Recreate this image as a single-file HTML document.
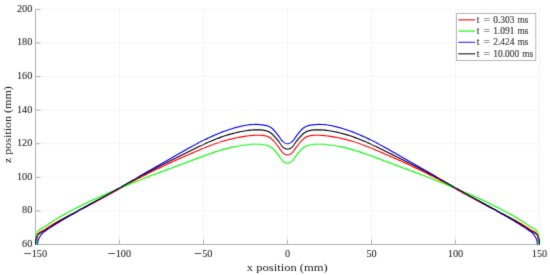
<!DOCTYPE html>
<html><head><meta charset="utf-8"><style>
html,body{margin:0;padding:0;background:#fff;}
svg{display:block;}
text{font-family:"Liberation Serif",serif;fill:#222222;stroke:#222222;stroke-width:0.06px;}
.lg text{stroke-width:0.15px;}
</style></head><body>
<svg width="550" height="275" viewBox="0 0 550 275">
<defs><filter id="b" x="0" y="0" width="100%" height="100%"><feConvolveMatrix order="3" kernelMatrix="0.01134 0.08382 0.01134 0.08382 0.61935 0.08382 0.01134 0.08382 0.01134" edgeMode="none"/></filter></defs>
<rect width="550" height="275" fill="#fff"/>
<g filter="url(#b)">
<g stroke="#f4f4f4" stroke-width="1"><line x1="119.5" y1="9.30" x2="119.5" y2="244.5"/><line x1="203.5" y1="9.30" x2="203.5" y2="244.5"/><line x1="287.5" y1="9.30" x2="287.5" y2="244.5"/><line x1="371.5" y1="9.30" x2="371.5" y2="244.5"/><line x1="455.5" y1="9.30" x2="455.5" y2="244.5"/><line x1="539.5" y1="9.30" x2="539.5" y2="244.5"/><line x1="35.5" y1="210.90" x2="539.5" y2="210.90"/><line x1="35.5" y1="177.30" x2="539.5" y2="177.30"/><line x1="35.5" y1="143.70" x2="539.5" y2="143.70"/><line x1="35.5" y1="110.10" x2="539.5" y2="110.10"/><line x1="35.5" y1="76.50" x2="539.5" y2="76.50"/><line x1="35.5" y1="42.90" x2="539.5" y2="42.90"/><line x1="35.5" y1="9.30" x2="539.5" y2="9.30"/></g>
<g stroke="#b0b0b0" stroke-width="1.0"><line x1="35.5" y1="244.5" x2="35.5" y2="239.5"/><line x1="119.5" y1="244.5" x2="119.5" y2="239.5"/><line x1="203.5" y1="244.5" x2="203.5" y2="239.5"/><line x1="287.5" y1="244.5" x2="287.5" y2="239.5"/><line x1="371.5" y1="244.5" x2="371.5" y2="239.5"/><line x1="455.5" y1="244.5" x2="455.5" y2="239.5"/><line x1="539.5" y1="244.5" x2="539.5" y2="239.5"/><line x1="35.5" y1="244.50" x2="40.5" y2="244.50"/><line x1="35.5" y1="210.90" x2="40.5" y2="210.90"/><line x1="35.5" y1="177.30" x2="40.5" y2="177.30"/><line x1="35.5" y1="143.70" x2="40.5" y2="143.70"/><line x1="35.5" y1="110.10" x2="40.5" y2="110.10"/><line x1="35.5" y1="76.50" x2="40.5" y2="76.50"/><line x1="35.5" y1="42.90" x2="40.5" y2="42.90"/><line x1="35.5" y1="9.30" x2="40.5" y2="9.30"/>
<line x1="35.5" y1="244.5" x2="540.0" y2="244.5"/>
<line x1="35.5" y1="9.30" x2="35.5" y2="245.0"/></g>
<g fill="none" stroke-width="1.15" stroke-linejoin="round"><path d="M37.00,244.50 37.01,243.25 37.03,241.45 37.05,239.55 37.10,238.00 37.17,236.93 37.25,236.09 37.36,235.41 37.50,234.80 37.66,234.29 37.84,233.89 38.08,233.56 38.40,233.20 38.84,232.81 39.36,232.42 39.93,232.05 40.50,231.70 41.06,231.38 41.64,231.09 42.23,230.80 42.80,230.50 43.37,230.17 43.95,229.84 44.50,229.51 45.00,229.20 45.42,228.93 45.79,228.68 46.14,228.45 46.50,228.21 46.91,227.94 47.34,227.66 47.73,227.41 48.00,227.24 49.50,226.30 51.00,225.39 52.50,224.49 54.00,223.62 55.50,222.77 57.00,221.93 58.50,221.12 60.00,220.31 61.50,219.52 63.00,218.73 64.50,217.96 66.00,217.19 67.50,216.43 69.00,215.67 70.50,214.92 72.00,214.16 73.50,213.40 75.00,212.64 76.50,211.87 78.00,211.10 79.50,210.32 81.00,209.54 82.50,208.76 84.00,207.97 85.50,207.18 87.00,206.38 88.50,205.59 90.00,204.79 91.50,203.99 93.00,203.18 94.50,202.38 96.00,201.57 97.50,200.77 99.00,199.96 100.50,199.15 102.00,198.34 103.50,197.53 105.00,196.72 106.50,195.91 108.00,195.10 109.50,194.28 111.00,193.47 112.50,192.65 114.00,191.84 115.50,191.02 117.00,190.21 118.50,189.39 120.00,188.57 121.50,187.75 123.00,186.93 124.50,186.11 126.00,185.30 127.50,184.48 129.00,183.66 130.50,182.85 132.00,182.03 133.50,181.22 135.00,180.42 136.50,179.61 138.00,178.81 139.50,178.01 141.00,177.22 142.50,176.43 144.00,175.65 145.50,174.87 147.00,174.10 148.50,173.33 150.00,172.57 151.50,171.81 153.00,171.06 154.50,170.32 156.00,169.58 157.50,168.84 159.00,168.11 160.50,167.39 162.00,166.67 163.50,165.95 165.00,165.24 166.50,164.53 168.00,163.83 169.50,163.13 171.00,162.44 172.50,161.75 174.00,161.06 175.50,160.38 177.00,159.71 178.50,159.03 180.00,158.36 181.50,157.69 183.00,157.03 184.50,156.37 186.00,155.71 187.50,155.06 189.00,154.41 190.50,153.76 192.00,153.11 193.50,152.46 195.00,151.82 196.50,151.18 198.00,150.54 199.50,149.91 201.00,149.28 202.50,148.65 204.00,148.04 205.50,147.43 207.00,146.83 208.50,146.23 210.00,145.65 211.50,145.08 213.00,144.53 214.50,143.98 216.00,143.45 217.50,142.94 219.00,142.44 220.50,141.96 222.00,141.50 223.50,141.05 225.00,140.62 226.50,140.21 228.00,139.81 229.50,139.43 231.00,139.07 232.50,138.71 234.00,138.38 235.50,138.05 237.00,137.74 238.50,137.45 240.00,137.16 241.50,136.89 243.00,136.63 244.50,136.38 246.00,136.16 247.50,135.95 249.00,135.77 250.50,135.61 252.00,135.47 253.50,135.36 255.00,135.28 256.50,135.23 258.00,135.21 259.50,135.23 261.00,135.28 262.00,135.34 262.50,135.38 263.00,135.43 263.50,135.49 264.00,135.57 264.50,135.65 265.00,135.74 265.50,135.85 266.00,135.97 266.50,136.11 267.00,136.26 267.50,136.43 268.00,136.63 268.50,136.85 269.00,137.10 269.50,137.38 270.00,137.70 270.50,138.04 271.00,138.43 271.50,138.86 272.00,139.32 272.50,139.81 273.00,140.33 273.50,140.88 274.00,141.44 274.50,142.02 275.00,142.61 275.50,143.21 276.00,143.81 276.50,144.42 277.00,145.05 277.50,145.69 278.00,146.34 278.50,147.01 279.00,147.70 279.50,148.41 280.00,149.13 280.50,149.84 281.00,150.53 281.50,151.20 282.00,151.83 282.50,152.40 283.00,152.90 283.50,153.33 284.00,153.69 284.50,153.99 285.00,154.24 285.50,154.45 286.00,154.63 286.50,154.77 287.00,154.87 287.50,154.90 288.00,154.87 288.50,154.77 289.00,154.63 289.50,154.45 290.00,154.24 290.50,153.99 291.00,153.69 291.50,153.33 292.00,152.90 292.50,152.40 293.00,151.83 293.50,151.20 294.00,150.53 294.50,149.84 295.00,149.13 295.50,148.41 296.00,147.70 296.50,147.01 297.00,146.34 297.50,145.69 298.00,145.05 298.50,144.42 299.00,143.81 299.50,143.21 300.00,142.61 300.50,142.02 301.00,141.44 301.50,140.88 302.00,140.33 302.50,139.81 303.00,139.32 303.50,138.86 304.00,138.43 304.50,138.04 305.00,137.70 305.50,137.38 306.00,137.10 306.50,136.85 307.00,136.63 307.50,136.43 308.00,136.26 308.50,136.11 309.00,135.97 309.50,135.85 310.00,135.74 310.50,135.65 311.00,135.57 311.50,135.49 312.00,135.43 312.50,135.38 313.00,135.34 314.00,135.28 315.50,135.23 317.00,135.21 318.50,135.23 320.00,135.28 321.50,135.36 323.00,135.47 324.50,135.61 326.00,135.77 327.50,135.95 329.00,136.16 330.50,136.38 332.00,136.63 333.50,136.89 335.00,137.16 336.50,137.45 338.00,137.74 339.50,138.05 341.00,138.38 342.50,138.71 344.00,139.07 345.50,139.43 347.00,139.81 348.50,140.21 350.00,140.62 351.50,141.05 353.00,141.50 354.50,141.96 356.00,142.44 357.50,142.94 359.00,143.45 360.50,143.98 362.00,144.53 363.50,145.08 365.00,145.65 366.50,146.23 368.00,146.83 369.50,147.43 371.00,148.04 372.50,148.65 374.00,149.28 375.50,149.91 377.00,150.54 378.50,151.18 380.00,151.82 381.50,152.46 383.00,153.11 384.50,153.76 386.00,154.41 387.50,155.06 389.00,155.71 390.50,156.37 392.00,157.03 393.50,157.69 395.00,158.36 396.50,159.03 398.00,159.71 399.50,160.38 401.00,161.06 402.50,161.75 404.00,162.44 405.50,163.13 407.00,163.83 408.50,164.53 410.00,165.24 411.50,165.95 413.00,166.67 414.50,167.39 416.00,168.11 417.50,168.84 419.00,169.58 420.50,170.32 422.00,171.06 423.50,171.81 425.00,172.57 426.50,173.33 428.00,174.10 429.50,174.87 431.00,175.65 432.50,176.43 434.00,177.22 435.50,178.01 437.00,178.81 438.50,179.61 440.00,180.42 441.50,181.22 443.00,182.03 444.50,182.85 446.00,183.66 447.50,184.48 449.00,185.30 450.50,186.11 452.00,186.93 453.50,187.75 455.00,188.57 456.50,189.39 458.00,190.21 459.50,191.02 461.00,191.84 462.50,192.65 464.00,193.47 465.50,194.28 467.00,195.10 468.50,195.91 470.00,196.72 471.50,197.53 473.00,198.34 474.50,199.15 476.00,199.96 477.50,200.77 479.00,201.57 480.50,202.38 482.00,203.18 483.50,203.99 485.00,204.79 486.50,205.59 488.00,206.38 489.50,207.18 491.00,207.97 492.50,208.76 494.00,209.54 495.50,210.32 497.00,211.10 498.50,211.87 500.00,212.64 501.50,213.40 503.00,214.16 504.50,214.92 506.00,215.67 507.50,216.43 509.00,217.19 510.50,217.96 512.00,218.73 513.50,219.52 515.00,220.31 516.50,221.12 518.00,221.93 519.50,222.77 521.00,223.62 522.50,224.49 524.00,225.39 525.50,226.30 527.00,227.24 527.27,227.41 527.66,227.66 528.09,227.94 528.50,228.21 528.86,228.45 529.21,228.68 529.58,228.93 530.00,229.20 530.50,229.51 531.05,229.84 531.63,230.17 532.20,230.50 532.77,230.80 533.36,231.09 533.94,231.38 534.50,231.70 535.07,232.05 535.64,232.42 536.16,232.81 536.60,233.20 536.92,233.56 537.16,233.89 537.34,234.29 537.50,234.80 537.64,235.41 537.75,236.09 537.83,236.93 537.90,238.00 537.95,239.55 537.98,241.45 537.99,243.25 538.00,244.50" stroke="#ff0000"/><path d="M36.30,244.50 36.30,243.26 36.29,241.47 36.29,239.57 36.30,238.00 36.32,236.87 36.35,235.95 36.40,235.15 36.50,234.40 36.63,233.68 36.79,233.04 37.00,232.46 37.30,231.90 37.70,231.38 38.18,230.90 38.72,230.45 39.30,230.00 39.92,229.56 40.59,229.14 41.29,228.73 42.00,228.30 42.76,227.84 43.58,227.36 44.35,226.90 45.00,226.50 45.48,226.19 45.84,225.93 46.16,225.71 46.50,225.47 46.91,225.19 47.34,224.90 47.73,224.64 48.00,224.45 49.50,223.46 51.00,222.48 52.50,221.52 54.00,220.57 55.50,219.64 57.00,218.73 58.50,217.83 60.00,216.94 61.50,216.07 63.00,215.20 64.50,214.36 66.00,213.52 67.50,212.69 69.00,211.87 70.50,211.07 72.00,210.27 73.50,209.48 75.00,208.70 76.50,207.93 78.00,207.16 79.50,206.40 81.00,205.65 82.50,204.91 84.00,204.17 85.50,203.44 87.00,202.72 88.50,202.00 90.00,201.29 91.50,200.59 93.00,199.89 94.50,199.20 96.00,198.51 97.50,197.84 99.00,197.17 100.50,196.50 102.00,195.84 103.50,195.18 105.00,194.53 106.50,193.88 108.00,193.24 109.50,192.60 111.00,191.96 112.50,191.32 114.00,190.69 115.50,190.06 117.00,189.43 118.50,188.81 120.00,188.18 121.50,187.56 123.00,186.93 124.50,186.31 126.00,185.69 127.50,185.07 129.00,184.45 130.50,183.83 132.00,183.22 133.50,182.61 135.00,182.00 136.50,181.39 138.00,180.79 139.50,180.19 141.00,179.59 142.50,179.00 144.00,178.41 145.50,177.83 147.00,177.24 148.50,176.66 150.00,176.09 151.50,175.52 153.00,174.95 154.50,174.38 156.00,173.82 157.50,173.25 159.00,172.69 160.50,172.13 162.00,171.57 163.50,171.02 165.00,170.46 166.50,169.90 168.00,169.34 169.50,168.79 171.00,168.23 172.50,167.67 174.00,167.11 175.50,166.55 177.00,165.99 178.50,165.43 180.00,164.87 181.50,164.30 183.00,163.74 184.50,163.18 186.00,162.61 187.50,162.05 189.00,161.48 190.50,160.92 192.00,160.35 193.50,159.79 195.00,159.22 196.50,158.65 198.00,158.09 199.50,157.52 201.00,156.96 202.50,156.40 204.00,155.85 205.50,155.30 207.00,154.75 208.50,154.22 210.00,153.69 211.50,153.17 213.00,152.66 214.50,152.15 216.00,151.67 217.50,151.19 219.00,150.72 220.50,150.27 222.00,149.83 223.50,149.41 225.00,149.00 226.50,148.61 228.00,148.23 229.50,147.87 231.00,147.52 232.50,147.18 234.00,146.86 235.50,146.55 237.00,146.26 238.50,145.98 240.00,145.71 241.50,145.46 243.00,145.22 244.50,145.01 246.00,144.81 247.50,144.64 249.00,144.50 250.50,144.38 252.00,144.29 253.50,144.23 255.00,144.21 256.50,144.21 258.00,144.25 259.50,144.30 261.00,144.39 262.00,144.47 262.50,144.51 263.00,144.57 263.50,144.63 264.00,144.70 264.50,144.78 265.00,144.87 265.50,144.97 266.00,145.08 266.50,145.20 267.00,145.34 267.50,145.50 268.00,145.67 268.50,145.87 269.00,146.09 269.50,146.34 270.00,146.61 270.50,146.92 271.00,147.26 271.50,147.63 272.00,148.04 272.50,148.48 273.00,148.94 273.50,149.43 274.00,149.93 274.50,150.46 275.00,151.00 275.50,151.55 276.00,152.12 276.50,152.70 277.00,153.30 277.50,153.92 278.00,154.56 278.50,155.22 279.00,155.90 279.50,156.60 280.00,157.32 280.50,158.03 281.00,158.73 281.50,159.39 282.00,160.02 282.50,160.59 283.00,161.10 283.50,161.53 284.00,161.89 284.50,162.19 285.00,162.44 285.50,162.65 286.00,162.83 286.50,162.97 287.00,163.07 287.50,163.10 288.00,163.07 288.50,162.97 289.00,162.83 289.50,162.65 290.00,162.44 290.50,162.19 291.00,161.89 291.50,161.53 292.00,161.10 292.50,160.59 293.00,160.02 293.50,159.39 294.00,158.73 294.50,158.03 295.00,157.32 295.50,156.60 296.00,155.90 296.50,155.22 297.00,154.56 297.50,153.92 298.00,153.30 298.50,152.70 299.00,152.12 299.50,151.55 300.00,151.00 300.50,150.46 301.00,149.93 301.50,149.43 302.00,148.94 302.50,148.48 303.00,148.04 303.50,147.63 304.00,147.26 304.50,146.92 305.00,146.61 305.50,146.34 306.00,146.09 306.50,145.87 307.00,145.67 307.50,145.50 308.00,145.34 308.50,145.20 309.00,145.08 309.50,144.97 310.00,144.87 310.50,144.78 311.00,144.70 311.50,144.63 312.00,144.57 312.50,144.51 313.00,144.47 314.00,144.39 315.50,144.30 317.00,144.25 318.50,144.21 320.00,144.21 321.50,144.23 323.00,144.29 324.50,144.38 326.00,144.50 327.50,144.64 329.00,144.81 330.50,145.01 332.00,145.22 333.50,145.46 335.00,145.71 336.50,145.98 338.00,146.26 339.50,146.55 341.00,146.86 342.50,147.18 344.00,147.52 345.50,147.87 347.00,148.23 348.50,148.61 350.00,149.00 351.50,149.41 353.00,149.83 354.50,150.27 356.00,150.72 357.50,151.19 359.00,151.67 360.50,152.15 362.00,152.66 363.50,153.17 365.00,153.69 366.50,154.22 368.00,154.75 369.50,155.30 371.00,155.85 372.50,156.40 374.00,156.96 375.50,157.52 377.00,158.09 378.50,158.65 380.00,159.22 381.50,159.79 383.00,160.35 384.50,160.92 386.00,161.48 387.50,162.05 389.00,162.61 390.50,163.18 392.00,163.74 393.50,164.30 395.00,164.87 396.50,165.43 398.00,165.99 399.50,166.55 401.00,167.11 402.50,167.67 404.00,168.23 405.50,168.79 407.00,169.34 408.50,169.90 410.00,170.46 411.50,171.02 413.00,171.57 414.50,172.13 416.00,172.69 417.50,173.25 419.00,173.82 420.50,174.38 422.00,174.95 423.50,175.52 425.00,176.09 426.50,176.66 428.00,177.24 429.50,177.83 431.00,178.41 432.50,179.00 434.00,179.59 435.50,180.19 437.00,180.79 438.50,181.39 440.00,182.00 441.50,182.61 443.00,183.22 444.50,183.83 446.00,184.45 447.50,185.07 449.00,185.69 450.50,186.31 452.00,186.93 453.50,187.56 455.00,188.18 456.50,188.81 458.00,189.43 459.50,190.06 461.00,190.69 462.50,191.32 464.00,191.96 465.50,192.60 467.00,193.24 468.50,193.88 470.00,194.53 471.50,195.18 473.00,195.84 474.50,196.50 476.00,197.17 477.50,197.84 479.00,198.51 480.50,199.20 482.00,199.89 483.50,200.59 485.00,201.29 486.50,202.00 488.00,202.72 489.50,203.44 491.00,204.17 492.50,204.91 494.00,205.65 495.50,206.40 497.00,207.16 498.50,207.93 500.00,208.70 501.50,209.48 503.00,210.27 504.50,211.07 506.00,211.87 507.50,212.69 509.00,213.52 510.50,214.36 512.00,215.20 513.50,216.07 515.00,216.94 516.50,217.83 518.00,218.73 519.50,219.64 521.00,220.57 522.50,221.52 524.00,222.48 525.50,223.46 527.00,224.45 527.27,224.64 527.66,224.90 528.09,225.19 528.50,225.47 528.84,225.71 529.16,225.93 529.52,226.19 530.00,226.50 530.65,226.90 531.42,227.36 532.24,227.84 533.00,228.30 533.71,228.73 534.41,229.14 535.08,229.56 535.70,230.00 536.28,230.45 536.82,230.90 537.30,231.38 537.70,231.90 538.00,232.46 538.21,233.04 538.37,233.68 538.50,234.40 538.60,235.15 538.65,235.95 538.68,236.87 538.70,238.00 538.71,239.57 538.71,241.47 538.70,243.26 538.70,244.50" stroke="#00ff00"/><path d="M37.50,244.50 37.57,243.87 37.67,242.97 37.81,241.96 38.00,241.00 38.25,240.11 38.56,239.21 38.91,238.33 39.30,237.50 39.76,236.71 40.27,235.96 40.80,235.25 41.30,234.60 41.74,234.02 42.15,233.51 42.56,233.04 43.00,232.60 43.49,232.20 44.01,231.84 44.53,231.51 45.00,231.20 45.41,230.91 45.78,230.65 46.14,230.41 46.50,230.16 46.91,229.88 47.34,229.58 47.73,229.32 48.00,229.13 49.50,228.12 51.00,227.13 52.50,226.16 54.00,225.19 55.50,224.25 57.00,223.31 58.50,222.39 60.00,221.48 61.50,220.58 63.00,219.69 64.50,218.81 66.00,217.94 67.50,217.07 69.00,216.21 70.50,215.36 72.00,214.51 73.50,213.66 75.00,212.82 76.50,211.98 78.00,211.14 79.50,210.31 81.00,209.47 82.50,208.64 84.00,207.81 85.50,206.98 87.00,206.15 88.50,205.32 90.00,204.49 91.50,203.66 93.00,202.83 94.50,202.00 96.00,201.17 97.50,200.33 99.00,199.50 100.50,198.66 102.00,197.83 103.50,196.99 105.00,196.15 106.50,195.30 108.00,194.46 109.50,193.61 111.00,192.77 112.50,191.92 114.00,191.06 115.50,190.21 117.00,189.35 118.50,188.49 120.00,187.63 121.50,186.76 123.00,185.90 124.50,185.03 126.00,184.16 127.50,183.28 129.00,182.41 130.50,181.53 132.00,180.66 133.50,179.78 135.00,178.91 136.50,178.03 138.00,177.16 139.50,176.29 141.00,175.42 142.50,174.55 144.00,173.69 145.50,172.82 147.00,171.96 148.50,171.11 150.00,170.25 151.50,169.40 153.00,168.55 154.50,167.70 156.00,166.85 157.50,166.00 159.00,165.15 160.50,164.30 162.00,163.45 163.50,162.60 165.00,161.75 166.50,160.89 168.00,160.04 169.50,159.18 171.00,158.32 172.50,157.45 174.00,156.59 175.50,155.72 177.00,154.85 178.50,153.99 180.00,153.12 181.50,152.26 183.00,151.40 184.50,150.54 186.00,149.69 187.50,148.84 189.00,148.00 190.50,147.17 192.00,146.35 193.50,145.53 195.00,144.72 196.50,143.92 198.00,143.13 199.50,142.36 201.00,141.59 202.50,140.83 204.00,140.09 205.50,139.36 207.00,138.64 208.50,137.93 210.00,137.23 211.50,136.55 213.00,135.88 214.50,135.22 216.00,134.58 217.50,133.95 219.00,133.33 220.50,132.73 222.00,132.14 223.50,131.57 225.00,131.02 226.50,130.48 228.00,129.96 229.50,129.45 231.00,128.97 232.50,128.50 234.00,128.05 235.50,127.62 237.00,127.21 238.50,126.82 240.00,126.45 241.50,126.10 243.00,125.78 244.50,125.49 246.00,125.22 247.50,124.99 249.00,124.79 250.50,124.64 252.00,124.52 253.50,124.45 255.00,124.42 256.50,124.43 258.00,124.49 259.50,124.59 261.00,124.73 262.00,124.84 262.50,124.91 263.00,124.98 263.50,125.06 264.00,125.14 264.50,125.23 265.00,125.32 265.50,125.42 266.00,125.53 266.50,125.65 267.00,125.77 267.50,125.91 268.00,126.07 268.50,126.24 269.00,126.44 269.50,126.67 270.00,126.93 270.50,127.22 271.00,127.55 271.50,127.92 272.00,128.33 272.50,128.77 273.00,129.24 273.50,129.74 274.00,130.27 274.50,130.82 275.00,131.39 275.50,131.98 276.00,132.58 276.50,133.20 277.00,133.84 277.50,134.49 278.00,135.16 278.50,135.85 279.00,136.55 279.50,137.27 280.00,137.99 280.50,138.70 281.00,139.40 281.50,140.06 282.00,140.68 282.50,141.25 283.00,141.75 283.50,142.18 284.00,142.53 284.50,142.83 285.00,143.09 285.50,143.30 286.00,143.48 286.50,143.62 287.00,143.72 287.50,143.75 288.00,143.72 288.50,143.62 289.00,143.48 289.50,143.30 290.00,143.09 290.50,142.83 291.00,142.53 291.50,142.18 292.00,141.75 292.50,141.25 293.00,140.68 293.50,140.06 294.00,139.40 294.50,138.70 295.00,137.99 295.50,137.27 296.00,136.55 296.50,135.85 297.00,135.16 297.50,134.49 298.00,133.84 298.50,133.20 299.00,132.58 299.50,131.98 300.00,131.39 300.50,130.82 301.00,130.27 301.50,129.74 302.00,129.24 302.50,128.77 303.00,128.33 303.50,127.92 304.00,127.55 304.50,127.22 305.00,126.93 305.50,126.67 306.00,126.44 306.50,126.24 307.00,126.07 307.50,125.91 308.00,125.77 308.50,125.65 309.00,125.53 309.50,125.42 310.00,125.32 310.50,125.23 311.00,125.14 311.50,125.06 312.00,124.98 312.50,124.91 313.00,124.84 314.00,124.73 315.50,124.59 317.00,124.49 318.50,124.43 320.00,124.42 321.50,124.45 323.00,124.52 324.50,124.64 326.00,124.79 327.50,124.99 329.00,125.22 330.50,125.49 332.00,125.78 333.50,126.10 335.00,126.45 336.50,126.82 338.00,127.21 339.50,127.62 341.00,128.05 342.50,128.50 344.00,128.97 345.50,129.45 347.00,129.96 348.50,130.48 350.00,131.02 351.50,131.57 353.00,132.14 354.50,132.73 356.00,133.33 357.50,133.95 359.00,134.58 360.50,135.22 362.00,135.88 363.50,136.55 365.00,137.23 366.50,137.93 368.00,138.64 369.50,139.36 371.00,140.09 372.50,140.83 374.00,141.59 375.50,142.36 377.00,143.13 378.50,143.92 380.00,144.72 381.50,145.53 383.00,146.35 384.50,147.17 386.00,148.00 387.50,148.84 389.00,149.69 390.50,150.54 392.00,151.40 393.50,152.26 395.00,153.12 396.50,153.99 398.00,154.85 399.50,155.72 401.00,156.59 402.50,157.45 404.00,158.32 405.50,159.18 407.00,160.04 408.50,160.89 410.00,161.75 411.50,162.60 413.00,163.45 414.50,164.30 416.00,165.15 417.50,166.00 419.00,166.85 420.50,167.70 422.00,168.55 423.50,169.40 425.00,170.25 426.50,171.11 428.00,171.96 429.50,172.82 431.00,173.69 432.50,174.55 434.00,175.42 435.50,176.29 437.00,177.16 438.50,178.03 440.00,178.91 441.50,179.78 443.00,180.66 444.50,181.53 446.00,182.41 447.50,183.28 449.00,184.16 450.50,185.03 452.00,185.90 453.50,186.76 455.00,187.63 456.50,188.49 458.00,189.35 459.50,190.21 461.00,191.06 462.50,191.92 464.00,192.77 465.50,193.61 467.00,194.46 468.50,195.30 470.00,196.15 471.50,196.99 473.00,197.83 474.50,198.66 476.00,199.50 477.50,200.33 479.00,201.17 480.50,202.00 482.00,202.83 483.50,203.66 485.00,204.49 486.50,205.32 488.00,206.15 489.50,206.98 491.00,207.81 492.50,208.64 494.00,209.47 495.50,210.31 497.00,211.14 498.50,211.98 500.00,212.82 501.50,213.66 503.00,214.51 504.50,215.36 506.00,216.21 507.50,217.07 509.00,217.94 510.50,218.81 512.00,219.69 513.50,220.58 515.00,221.48 516.50,222.39 518.00,223.31 519.50,224.25 521.00,225.19 522.50,226.16 524.00,227.13 525.50,228.12 527.00,229.13 527.27,229.32 527.66,229.58 528.09,229.88 528.50,230.16 528.86,230.41 529.22,230.65 529.59,230.91 530.00,231.20 530.47,231.51 530.99,231.84 531.51,232.20 532.00,232.60 532.44,233.04 532.85,233.51 533.26,234.02 533.70,234.60 534.20,235.25 534.73,235.96 535.24,236.71 535.70,237.50 536.09,238.33 536.44,239.21 536.75,240.11 537.00,241.00 537.19,241.96 537.33,242.97 537.43,243.87 537.50,244.50" stroke="#0000ff"/><path d="M35.50,244.50 35.54,243.67 35.59,242.46 35.67,241.15 35.80,240.00 35.98,239.05 36.21,238.18 36.48,237.36 36.80,236.60 37.17,235.90 37.58,235.25 38.05,234.65 38.60,234.10 39.23,233.60 39.94,233.16 40.71,232.74 41.50,232.30 42.38,231.81 43.34,231.30 44.25,230.82 45.00,230.40 45.52,230.08 45.88,229.83 46.17,229.61 46.50,229.37 46.91,229.09 47.34,228.80 47.73,228.54 48.00,228.36 49.50,227.37 51.00,226.39 52.50,225.43 54.00,224.49 55.50,223.56 57.00,222.64 58.50,221.73 60.00,220.84 61.50,219.96 63.00,219.08 64.50,218.22 66.00,217.36 67.50,216.51 69.00,215.66 70.50,214.82 72.00,213.99 73.50,213.16 75.00,212.33 76.50,211.50 78.00,210.68 79.50,209.85 81.00,209.03 82.50,208.21 84.00,207.39 85.50,206.57 87.00,205.76 88.50,204.94 90.00,204.12 91.50,203.30 93.00,202.49 94.50,201.67 96.00,200.86 97.50,200.04 99.00,199.22 100.50,198.41 102.00,197.59 103.50,196.77 105.00,195.95 106.50,195.13 108.00,194.31 109.50,193.49 111.00,192.67 112.50,191.85 114.00,191.03 115.50,190.20 117.00,189.38 118.50,188.55 120.00,187.72 121.50,186.89 123.00,186.06 124.50,185.23 126.00,184.39 127.50,183.56 129.00,182.73 130.50,181.90 132.00,181.07 133.50,180.24 135.00,179.41 136.50,178.58 138.00,177.76 139.50,176.94 141.00,176.12 142.50,175.30 144.00,174.49 145.50,173.68 147.00,172.88 148.50,172.08 150.00,171.28 151.50,170.49 153.00,169.70 154.50,168.91 156.00,168.12 157.50,167.34 159.00,166.57 160.50,165.79 162.00,165.02 163.50,164.25 165.00,163.48 166.50,162.71 168.00,161.95 169.50,161.18 171.00,160.42 172.50,159.66 174.00,158.90 175.50,158.15 177.00,157.39 178.50,156.64 180.00,155.89 181.50,155.14 183.00,154.39 184.50,153.65 186.00,152.91 187.50,152.17 189.00,151.43 190.50,150.70 192.00,149.96 193.50,149.24 195.00,148.51 196.50,147.79 198.00,147.07 199.50,146.35 201.00,145.65 202.50,144.94 204.00,144.25 205.50,143.56 207.00,142.89 208.50,142.22 210.00,141.56 211.50,140.92 213.00,140.29 214.50,139.67 216.00,139.07 217.50,138.48 219.00,137.91 220.50,137.36 222.00,136.82 223.50,136.30 225.00,135.80 226.50,135.32 228.00,134.86 229.50,134.41 231.00,133.99 232.50,133.58 234.00,133.19 235.50,132.81 237.00,132.46 238.50,132.13 240.00,131.81 241.50,131.51 243.00,131.24 244.50,130.98 246.00,130.75 247.50,130.53 249.00,130.35 250.50,130.19 252.00,130.05 253.50,129.94 255.00,129.87 256.50,129.82 258.00,129.82 259.50,129.85 261.00,129.93 262.00,130.01 262.50,130.06 263.00,130.12 263.50,130.19 264.00,130.27 264.50,130.36 265.00,130.47 265.50,130.58 266.00,130.71 266.50,130.85 267.00,131.01 267.50,131.19 268.00,131.38 268.50,131.60 269.00,131.85 269.50,132.13 270.00,132.43 270.50,132.77 271.00,133.14 271.50,133.55 272.00,133.99 272.50,134.46 273.00,134.96 273.50,135.47 274.00,136.01 274.50,136.55 275.00,137.10 275.50,137.66 276.00,138.22 276.50,138.79 277.00,139.37 277.50,139.97 278.00,140.59 278.50,141.23 279.00,141.90 279.50,142.59 280.00,143.30 280.50,144.01 281.00,144.71 281.50,145.38 282.00,146.01 282.50,146.59 283.00,147.10 283.50,147.53 284.00,147.89 284.50,148.19 285.00,148.44 285.50,148.65 286.00,148.83 286.50,148.97 287.00,149.07 287.50,149.10 288.00,149.07 288.50,148.97 289.00,148.83 289.50,148.65 290.00,148.44 290.50,148.19 291.00,147.89 291.50,147.53 292.00,147.10 292.50,146.59 293.00,146.01 293.50,145.38 294.00,144.71 294.50,144.01 295.00,143.30 295.50,142.59 296.00,141.90 296.50,141.23 297.00,140.59 297.50,139.97 298.00,139.37 298.50,138.79 299.00,138.22 299.50,137.66 300.00,137.10 300.50,136.55 301.00,136.01 301.50,135.47 302.00,134.96 302.50,134.46 303.00,133.99 303.50,133.55 304.00,133.14 304.50,132.77 305.00,132.43 305.50,132.13 306.00,131.85 306.50,131.60 307.00,131.38 307.50,131.19 308.00,131.01 308.50,130.85 309.00,130.71 309.50,130.58 310.00,130.47 310.50,130.36 311.00,130.27 311.50,130.19 312.00,130.12 312.50,130.06 313.00,130.01 314.00,129.93 315.50,129.85 317.00,129.82 318.50,129.82 320.00,129.87 321.50,129.94 323.00,130.05 324.50,130.19 326.00,130.35 327.50,130.53 329.00,130.75 330.50,130.98 332.00,131.24 333.50,131.51 335.00,131.81 336.50,132.13 338.00,132.46 339.50,132.81 341.00,133.19 342.50,133.58 344.00,133.99 345.50,134.41 347.00,134.86 348.50,135.32 350.00,135.80 351.50,136.30 353.00,136.82 354.50,137.36 356.00,137.91 357.50,138.48 359.00,139.07 360.50,139.67 362.00,140.29 363.50,140.92 365.00,141.56 366.50,142.22 368.00,142.89 369.50,143.56 371.00,144.25 372.50,144.94 374.00,145.65 375.50,146.35 377.00,147.07 378.50,147.79 380.00,148.51 381.50,149.24 383.00,149.96 384.50,150.70 386.00,151.43 387.50,152.17 389.00,152.91 390.50,153.65 392.00,154.39 393.50,155.14 395.00,155.89 396.50,156.64 398.00,157.39 399.50,158.15 401.00,158.90 402.50,159.66 404.00,160.42 405.50,161.18 407.00,161.95 408.50,162.71 410.00,163.48 411.50,164.25 413.00,165.02 414.50,165.79 416.00,166.57 417.50,167.34 419.00,168.12 420.50,168.91 422.00,169.70 423.50,170.49 425.00,171.28 426.50,172.08 428.00,172.88 429.50,173.68 431.00,174.49 432.50,175.30 434.00,176.12 435.50,176.94 437.00,177.76 438.50,178.58 440.00,179.41 441.50,180.24 443.00,181.07 444.50,181.90 446.00,182.73 447.50,183.56 449.00,184.39 450.50,185.23 452.00,186.06 453.50,186.89 455.00,187.72 456.50,188.55 458.00,189.38 459.50,190.20 461.00,191.03 462.50,191.85 464.00,192.67 465.50,193.49 467.00,194.31 468.50,195.13 470.00,195.95 471.50,196.77 473.00,197.59 474.50,198.41 476.00,199.22 477.50,200.04 479.00,200.86 480.50,201.67 482.00,202.49 483.50,203.30 485.00,204.12 486.50,204.94 488.00,205.76 489.50,206.57 491.00,207.39 492.50,208.21 494.00,209.03 495.50,209.85 497.00,210.68 498.50,211.50 500.00,212.33 501.50,213.16 503.00,213.99 504.50,214.82 506.00,215.66 507.50,216.51 509.00,217.36 510.50,218.22 512.00,219.08 513.50,219.96 515.00,220.84 516.50,221.73 518.00,222.64 519.50,223.56 521.00,224.49 522.50,225.43 524.00,226.39 525.50,227.37 527.00,228.36 527.27,228.54 527.66,228.80 528.09,229.09 528.50,229.37 528.83,229.61 529.12,229.83 529.48,230.08 530.00,230.40 530.75,230.82 531.66,231.30 532.62,231.81 533.50,232.30 534.29,232.74 535.06,233.16 535.77,233.60 536.40,234.10 536.95,234.65 537.42,235.25 537.83,235.90 538.20,236.60 538.52,237.36 538.79,238.18 539.02,239.05 539.20,240.00 539.33,241.15 539.41,242.46 539.46,243.67 539.50,244.50" stroke="#000000"/></g>
<g font-size="10.2"><text y="256.7"><tspan x="23.97" textLength="7.75" lengthAdjust="spacingAndGlyphs">−</tspan><tspan x="31.73">150</tspan></text><text y="256.7"><tspan x="107.97" textLength="7.75" lengthAdjust="spacingAndGlyphs">−</tspan><tspan x="115.73">100</tspan></text><text y="256.7"><tspan x="194.52" textLength="7.75" lengthAdjust="spacingAndGlyphs">−</tspan><tspan x="202.28">50</tspan></text><text x="287.50" y="256.7" text-anchor="middle">0</text><text x="371.50" y="256.7" text-anchor="middle">50</text><text x="455.50" y="256.7" text-anchor="middle">100</text><text x="539.50" y="256.7" text-anchor="middle">150</text><text x="32.3" y="246.90" text-anchor="end">60</text><text x="32.3" y="213.30" text-anchor="end">80</text><text x="32.3" y="179.70" text-anchor="end">100</text><text x="32.3" y="146.10" text-anchor="end">120</text><text x="32.3" y="112.50" text-anchor="end">140</text><text x="32.3" y="78.90" text-anchor="end">160</text><text x="32.3" y="45.30" text-anchor="end">180</text><text x="32.3" y="11.70" text-anchor="end">200</text></g>
<rect x="456.5" y="13.6" width="79.3" height="47" fill="#fff" stroke="#a0a0a0" stroke-width="0.8"/>
<g font-size="9.4" class="lg"><line x1="458.3" y1="19.80" x2="475.2" y2="19.80" stroke="#ff0000" stroke-width="1.3"/><text y="22.80"><tspan x="476.7">t</tspan> <tspan x="483.4" textLength="6.4" lengthAdjust="spacingAndGlyphs">=</tspan> <tspan x="493.3">0.303</tspan> <tspan x="517.55">ms</tspan></text><line x1="458.3" y1="31.10" x2="475.2" y2="31.10" stroke="#00ff00" stroke-width="1.3"/><text y="34.10"><tspan x="476.7">t</tspan> <tspan x="483.4" textLength="6.4" lengthAdjust="spacingAndGlyphs">=</tspan> <tspan x="493.3">1.091</tspan> <tspan x="517.55">ms</tspan></text><line x1="458.3" y1="42.40" x2="475.2" y2="42.40" stroke="#0000ff" stroke-width="1.3"/><text y="45.40"><tspan x="476.7">t</tspan> <tspan x="483.4" textLength="6.4" lengthAdjust="spacingAndGlyphs">=</tspan> <tspan x="493.3">2.424</tspan> <tspan x="517.55">ms</tspan></text><line x1="458.3" y1="53.70" x2="475.2" y2="53.70" stroke="#000000" stroke-width="1.3"/><text y="56.70"><tspan x="476.7">t</tspan> <tspan x="483.4" textLength="6.4" lengthAdjust="spacingAndGlyphs">=</tspan> <tspan x="493.3">10.000</tspan> <tspan x="522.25">ms</tspan></text></g>
<text x="287.3" y="270.5" text-anchor="middle" font-size="11.2" style="stroke-width:0.0px" textLength="81" lengthAdjust="spacingAndGlyphs">x position (mm)</text>
<text transform="translate(10.6,124.6) rotate(-90)" text-anchor="middle" font-size="11.2" style="stroke-width:0.0px" textLength="76.8" lengthAdjust="spacingAndGlyphs">z position (mm)</text>
</g>
</svg>
</body></html>
